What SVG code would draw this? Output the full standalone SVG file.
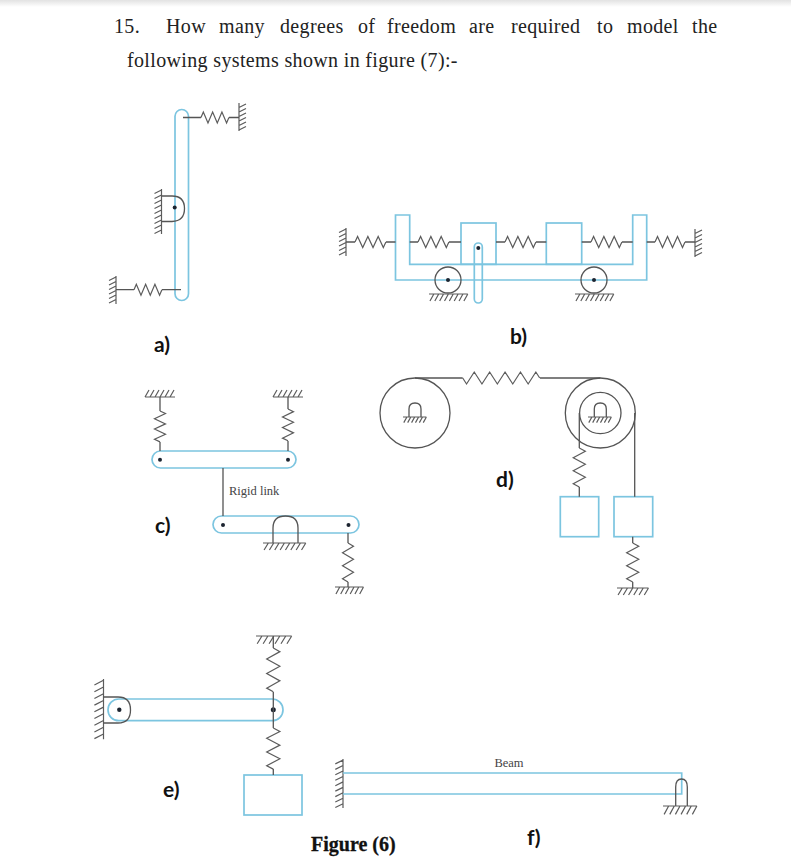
<svg xmlns="http://www.w3.org/2000/svg" width="791" height="866" viewBox="0 0 791 866">
<style>
.b{fill:none;stroke:#7cc5e0;stroke-width:1.7}
.k{fill:none;stroke:#555;stroke-width:1.3}
.h{fill:none;stroke:#5c5c5c;stroke-width:1.2;vector-effect:non-scaling-stroke}
.d{fill:#1c2430}
text{font-family:"Liberation Serif",serif;fill:#222}
.q{font-size:20px;letter-spacing:.35px}
.t{font-size:12.5px;fill:#444}
.l{font-family:Lato,"Open Sans",sans-serif;font-weight:700;font-size:21px;fill:#111}
.f{font-weight:700;font-size:20px;fill:#111;stroke:#111;stroke-width:.3}
</style>
<defs>
<linearGradient id="top" x1="0" y1="0" x2="0" y2="1"><stop offset="0" stop-color="#e2e2e2"/><stop offset="1" stop-color="#fff"/></linearGradient>
<path id="spr" class="h" d="M0 0l2.500-5.500 5 11 5-11 5 11 5-11 5 11 2.500-5.500"/>
<path id="spr5" class="h" d="M0 0l3.850 6 7.700-12 7.700 12 7.700-12 7.700 12 7.700-12 7.700 12 7.700-12 7.700 12 7.700-12 3.850 6"/>
<path id="gnd" class="h" d="M0 0H40M5 0l-4 7M10 0l-4 7M15 0l-4 7M20 0l-4 7M25 0l-4 7M30 0l-4 7M35 0l-4 7M40 0l-4 7"/>
<path id="gnd6" class="h" d="M0 0H30M5 0l-4 7M10 0l-4 7M15 0l-4 7M20 0l-4 7M25 0l-4 7M30 0l-4 7"/>
<path id="wall" class="h" d="M0 0V45M0 1l-7 3.500M0 6l-7 3.500M0 11l-7 3.500M0 16l-7 3.500M0 21l-7 3.500M0 26l-7 3.500M0 31l-7 3.500M0 36l-7 3.500M0 41l-7 3.500"/>
<path id="wall6" class="h" d="M0 0V28M0 1l-7 3.500M0 5.500l-7 3.500M0 10l-7 3.500M0 14.500l-7 3.500M0 19l-7 3.500M0 23.500l-7 3.500"/>
</defs>
<rect width="791" height="7" fill="url(#top)"/>
<g id="question">
<text class="q" y="32.500"><tspan x="114">15.</tspan><tspan x="166">How</tspan><tspan x="219">many</tspan><tspan x="280">degrees</tspan><tspan x="358">of</tspan><tspan x="387">freedom</tspan><tspan x="469">are</tspan><tspan x="511">required</tspan><tspan x="597">to</tspan><tspan x="627">model</tspan><tspan x="692">the</tspan></text>
<text class="q" x="127" y="66.500">following systems shown in figure (7):-</text>
</g>

<g id="fig-a">
<rect id="a-bar" class="b" x="175" y="109.500" width="13.500" height="191" rx="6.750"/>
<g id="a-pin"><use href="#wall" transform="translate(161.500,189)"/><path class="k" d="M161.500 196H172Q184.500 196 184.500 208.500T172 221.500H161.500"/><circle class="d" cx="174.700" cy="207.500" r="2"/></g>
<use id="a-wall-top" href="#wall6" transform="translate(239,131) rotate(180)"/>
<use id="a-wall-bottom" href="#wall6" transform="translate(116,276)"/>
</g>

<g id="fig-b">
<path id="b-frame" class="b" d="M395.500 215H409.700V264.300H632.700V215H646.700V280H395.500Z"/>
<rect id="b-mass-1" class="b" x="461" y="223" width="35" height="41.300"/>
<rect id="b-mass-2" class="b" x="546.300" y="223" width="35.400" height="41.300"/>
<rect id="b-link" class="b" x="474.300" y="243" width="8" height="60" rx="4"/>
<circle class="d" cx="478.300" cy="248" r="2"/>
<g id="b-wheel-1"><circle class="k" cx="448" cy="280" r="13"/><circle class="d" cx="448" cy="280" r="2"/><use href="#gnd" transform="translate(429,294) scale(.97,1)"/></g>
<g id="b-wheel-2"><circle class="k" cx="594" cy="280" r="13"/><circle class="d" cx="594" cy="280" r="2"/><use href="#gnd" transform="translate(575,294) scale(.97,1)"/></g>
<use id="b-wall-l" href="#wall6" transform="translate(346,228)"/>
<use id="b-wall-r" href="#wall6" transform="translate(695,257) rotate(180)"/>
</g>

<g id="fig-c">
<rect id="c-bar-1" class="b" x="152" y="451" width="144" height="17" rx="8.500"/>
<circle class="d" cx="160" cy="459.700" r="2"/><circle class="d" cx="288" cy="459.700" r="2"/>
<rect id="c-bar-2" class="b" x="213" y="516" width="146" height="17" rx="8.500"/>
<circle class="d" cx="223" cy="525" r="2"/><circle class="d" cx="348.500" cy="525" r="2"/>
<g id="c-pin"><path class="k" d="M273 543V528Q273 516 285.500 516T298 528V543"/><use href="#gnd" transform="translate(263,543) scale(1.070,1)"/></g>
<use href="#gnd6" transform="translate(175,397) rotate(180)"/>
<use href="#gnd6" transform="translate(303,397) rotate(180)"/>
<use href="#gnd6" transform="translate(335,587) scale(.95,1)"/>
<text class="t" x="229" y="494.500">Rigid link</text>
</g>

<g id="fig-d">
<g id="d-wheel-1"><circle class="k" cx="415" cy="413" r="35"/><path class="k" d="M409 417V409Q409 403 415 403T421 409V417"/><use href="#gnd6" transform="translate(403,417) scale(.78,.8)"/></g>
<g id="d-wheel-2"><circle class="k" cx="600.300" cy="413" r="35"/><circle class="k" cx="600.300" cy="413" r="20.700"/><path class="k" d="M594.300 417V409Q594.300 403 600.300 403T606.300 409V417"/><use href="#gnd6" transform="translate(588,417) scale(.78,.8)"/></g>
<rect id="d-mass-1" class="b" x="560.300" y="496.700" width="38.400" height="40"/>
<rect id="d-mass-2" class="b" x="614" y="496.700" width="38.700" height="40"/>
<use href="#gnd6" transform="translate(617,588) scale(1.050,1)"/>
</g>

<g id="fig-e">
<rect id="e-bar" class="b" x="108" y="699" width="175" height="21.700" rx="10.800"/>
<g id="e-pin"><use href="#wall" transform="translate(103.500,679) scale(1.300,1.340)"/><path class="k" d="M103.500 697H118Q130.500 697 130.500 710T118 723H103.500"/><circle class="d" cx="119.300" cy="709.700" r="2.200"/></g>
<circle class="d" cx="273.300" cy="709.700" r="2.500"/>
<use href="#gnd6" transform="translate(256,636) scale(1.190,1.100)"/>
<rect id="e-mass" class="b" x="244" y="775" width="58" height="40"/>
</g>

<g id="fig-f">
<use id="f-wall" href="#wall" transform="translate(343,759) scale(1.100,1.090)"/>
<path id="f-beam" class="b" d="M343 773H681.700V794H343"/>
<text class="t" x="509" y="766.500" text-anchor="middle">Beam</text>
<g id="f-pin"><path class="k" d="M675.700 806V787Q675.700 779 681.500 779T687.300 787V806"/><use href="#gnd6" transform="translate(663,806) scale(1.130,1.200)"/></g>
</g>

<g id="connectors">
<path class="k" d="M183 117.500H201M229 117.500H239M116 289.700H134M162 289.700H181"/>
<use href="#spr" transform="translate(201,117.500) scale(.93,1)"/>
<use href="#spr" transform="translate(134,289.700) scale(.93,1)"/>
<path class="k" d="M346 242H355M386 242H395.500M409.700 242H418M449 242H461M496 242H505M536 242H546.300M581.700 242H591M622 242H632.700M646.700 242H655M685 242H695"/>
<use href="#spr" transform="translate(355,242) scale(1.030,1)"/>
<use href="#spr" transform="translate(418,242) scale(1.030,1)"/>
<use href="#spr" transform="translate(505,242) scale(1.030,1)"/>
<use href="#spr" transform="translate(591,242) scale(1.030,1)"/>
<use href="#spr" transform="translate(655,242)"/>
<path class="k" d="M160 397V411M160 442V451M288 397V409M288 441V451M223 468V516M348 533V543M348 582V587"/>
<use href="#spr" transform="translate(160,411) rotate(90) scale(1.030,1)"/>
<use href="#spr" transform="translate(288,409) rotate(90) scale(1.060,1)"/>
<use href="#spr" transform="translate(348,543) rotate(90) scale(1.300,1)"/>
<path class="k" d="M415 378H462.700M540 378H600.300M579.300 413V448M579.300 487V496.700M634.700 413V496.700M632.700 536.700V543M632.700 582V588"/>
<use href="#spr5" transform="translate(462.700,378)"/>
<use href="#spr" transform="translate(579.300,448) rotate(90) scale(1.300,1.100)"/>
<use href="#spr" transform="translate(632.700,543) rotate(90) scale(1.300,1.100)"/>
<path class="k" d="M273.300 636V648M273.300 692V728M273.300 769V775"/>
<use href="#spr" transform="translate(273.300,648) rotate(90) scale(1.460,1.200)"/>
<use href="#spr" transform="translate(273.300,728) rotate(90) scale(1.370,1.200)"/>
</g>

<g id="labels">
<text class="l" x="154" y="352">a)</text>
<text class="l" x="510" y="344">b)</text>
<text class="l" x="155" y="533">c)</text>
<text class="l" x="496" y="487">d)</text>
<text class="l" x="163" y="797">e)</text>
<text class="l" x="527" y="845">f)</text>
<text class="f" x="311" y="851">Figure (6)</text>
</g>
</svg>
